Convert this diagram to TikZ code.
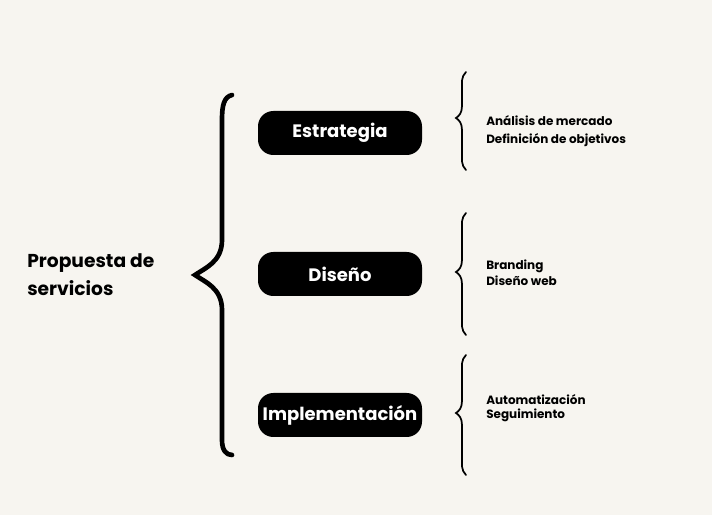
\documentclass[tikz,border=0pt]{standalone}
\usepackage{fontspec}
\setmainfont{Poppins}
\definecolor{paper}{HTML}{F7F5F0}
\begin{document}
\begin{tikzpicture}[x=0.75pt,y=-0.75pt,
  pill/.style={fill=black,text=white,rounded corners=11.5pt,minimum width=123pt,minimum height=33pt,font=\fontsize{13.5}{15}\selectfont\bfseries,inner sep=0pt},
  item/.style={anchor=west,font=\fontsize{9}{11}\selectfont\bfseries,inner sep=0pt},
  bigbrace/.style={line width=3.5pt,line cap=round},
  smallbrace/.style={line width=1.3pt,line cap=round}]
\useasboundingbox (0,0) rectangle (718,530);
\fill[white] (0,0) rectangle (718,530);
\fill[paper] (0,0) rectangle (712,515);
\node[anchor=west,align=left,font=\fontsize{14}{21}\selectfont\bfseries,inner sep=0pt] (title) at (27,275) {Propuesta de\\servicios};
\draw[bigbrace] (232,95) .. controls (224,97) and (222,105) .. (222,120) -- (222,240) .. controls (222,262) and (205,268) .. (195,275) .. controls (205,282) and (222,288) .. (222,310) -- (222,440) .. controls (222,450) and (226,455) .. (232,455);
\node[pill] (e) at (340,133) {Estrategia};
\node[pill] (d) at (340,274) {Diseño};
\node[pill] (i) at (340,415) {Implementación};
\foreach \t/\m/\b in {72/118/170, 213/272/335, 355/413/475}{
 \draw[smallbrace] (466,\t) .. controls (461,\t+5) and (462,\t+10) .. (462,\t+18) -- (462,\m-12) .. controls (462,\m-5) and (459,\m-2) .. (456,\m) .. controls (459,\m+2) and (462,\m+5) .. (462,\m+12) -- (462,\b-18) .. controls (462,\b-10) and (461,\b-5) .. (466,\b);
}
\node[item] (a1) at (486,121) {Análisis de mercado};
\node[item] (a2) at (486,140) {Definición de objetivos};
\node[item] (b1) at (486,266) {Branding};
\node[item] (b2) at (486,281) {Diseño web};
\node[item] (c1) at (486,400) {Automatización};
\node[item] (c2) at (486,415) {Seguimiento};
\end{tikzpicture}
\end{document}
